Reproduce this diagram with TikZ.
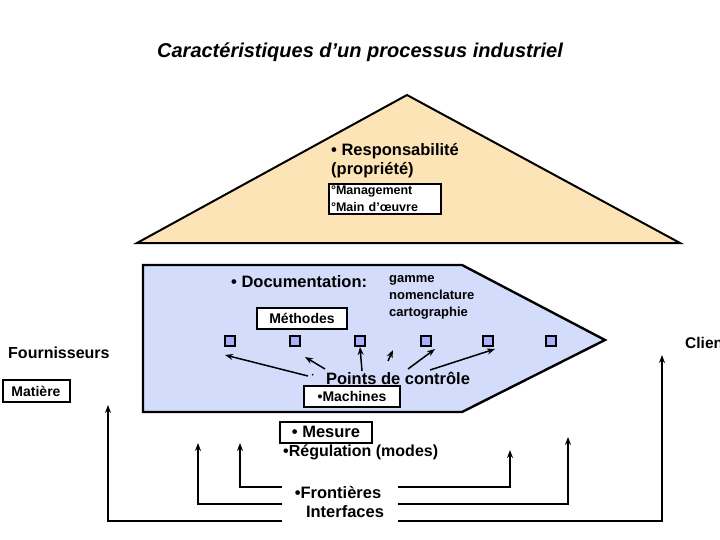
\documentclass[tikz,border=0pt]{standalone}
\usepackage{fontspec}
\setmainfont{Liberation Sans}
\usetikzlibrary{arrows.meta}
\definecolor{beige}{HTML}{FCE4B6}
\definecolor{pale}{HTML}{D3DCFA}
\begin{document}
\begin{tikzpicture}[x=1pt,y=-1pt,
  lbl/.style={inner sep=1pt},
  box/.style={draw,line width=2pt,fill=white,inner sep=2pt},
  sq/.style={draw,line width=2pt,fill=pale!80!blue,minimum size=10pt,inner sep=0pt},
  ar/.style={-{Stealth[length=8pt]},line width=1.5pt},
  B/.style={font=\bfseries\fontsize{#1}{#1}\selectfont}]
\useasboundingbox (0,0) rectangle (720,540);
\fill[white] (0,0) rectangle (720,540);
\node[font=\bfseries\itshape\fontsize{20}{22}\selectfont] (title) at (360,52) {Caractéristiques d’un processus industriel};
\filldraw[fill=beige,line width=2pt] (407,95) -- (680,243) -- (137,243) -- cycle;
\node[lbl,anchor=west,align=left,font=\bfseries\fontsize{16.5}{19}\selectfont] (resp) at (330,161) {• Responsabilité\\(propriété)};
\node[box,anchor=north west,align=left,font=\bfseries\fontsize{12.5}{17}\selectfont,text width=108pt] (mgmt) at (328,183) {°Management\\°Main d’œuvre};
\filldraw[fill=pale,line width=2.4pt] (143,265) -- (462,265) -- (605,340) -- (462,412) -- (143,412) -- cycle;
\node[lbl,anchor=west,B=16.5] (doc) at (230,282) {• Documentation:};
\node[lbl,anchor=north west,align=left,font=\bfseries\fontsize{13}{17}\selectfont] (gam) at (388,274) {gamme\\nomenclature\\cartographie};
\node[box,B=14,minimum width=90pt,minimum height=21pt] (meth) at (302,318) {Méthodes};
\foreach \i/\x in {1/230,2/295,3/360,4/426,5/488,6/551}{\node[sq] (s\i) at (\x,341) {};}
\node[lbl,B=16.5] (pc) at (398,378) {Points de contrôle};
\node[font=\bfseries] (dot) at (313,376) {·};
\draw[ar] (308,376) -- (225,355);
\draw[ar] (325,369) -- (305,357);
\draw[ar] (362,371) -- (s3.south);
\draw[ar] (388,361) -- (393,350);
\draw[ar] (408,369) -- (435,349);
\draw[ar] (430,370) -- (495,349);
\node[box,B=14,minimum width=96pt,minimum height=21pt] (mach) at (352,396) {•Machines};
\node[lbl,anchor=west,B=15.5] (clien) at (684,343) {Client};
\node[lbl,anchor=west,B=16] (four) at (7,353) {Fournisseurs};
\node[box,B=14,minimum width=67pt,minimum height=22pt] (mat) at (36,391) {Matière};
\node[box,B=16.5,minimum width=92pt,minimum height=21pt,anchor=west] (mes) at (279,432) {• Mesure};
\node[lbl,anchor=west,B=16] (reg) at (282,452) {•Régulation (modes)};
\node[lbl,B=16.5] (fr) at (338,493) {•Frontières};
\node[lbl,B=16.5] (int) at (345,512) {Interfaces};
\coordinate (a1) at (108,405); \coordinate (a2) at (662,355);
\coordinate (b1) at (198,443); \coordinate (b2) at (568,437);
\coordinate (c1) at (240,443); \coordinate (c2) at (510,450);
\draw[ar] (282,521) -| (a1);
\draw[ar] (398,521) -| (a2);
\draw[ar] (282,504) -| (b1);
\draw[ar] (398,504) -| (b2);
\draw[ar] (282,487) -| (c1);
\draw[ar] (398,487) -| (c2);
\end{tikzpicture}
\end{document}
